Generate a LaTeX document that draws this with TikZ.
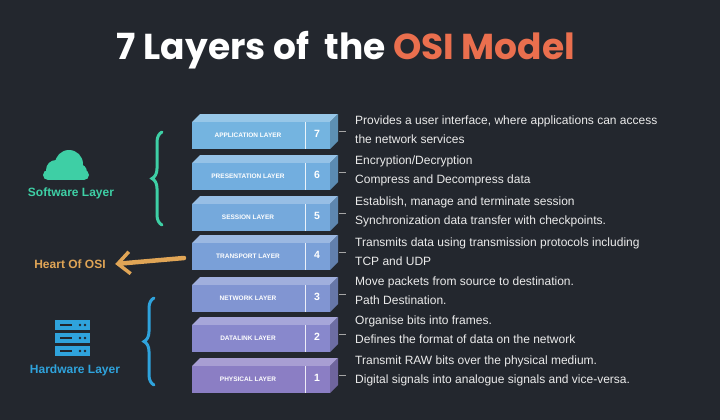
\documentclass[tikz,border=0pt]{standalone}
\usepackage{fontspec}
\setmainfont{Liberation Sans}
\newfontfamily\titlefont{Poppins}
\usetikzlibrary{decorations.pathreplacing,arrows.meta}
\definecolor{bg}{HTML}{23272E}
\definecolor{teal}{HTML}{3ECFA5}
\definecolor{orng}{HTML}{E0A556}
\definecolor{hwblue}{HTML}{2FA3DC}
\definecolor{titleor}{HTML}{EA6F4E}
\tikzset{
  desc/.style={anchor=west,text=white!92!black,font=\fontsize{12}{19}\selectfont,align=left,inner sep=0},
  lbl/.style={text=white,font=\bfseries\fontsize{6.5}{7}\selectfont,inner sep=0},
  num/.style={text=white,font=\bfseries\fontsize{10.5}{12}\selectfont,inner sep=0},
}
\newcommand{\layerbox}[5]{% y0, color, label, number, name
  \fill[#2!75!white] (192,#1) -- (200,#1-8) -- (338,#1-8) -- (330,#1) -- cycle;
  \fill[#2!80!black] (330,#1) -- (338,#1-8) -- (338,#1+19) -- (330,#1+27) -- cycle;
  \fill[#2] (192,#1) rectangle (330,#1+27);
  \draw[white!85!#2,line width=0.6pt] (305,#1) -- (305,#1+27);
  \node[lbl] (#5) at (248,#1+13.5) {#3};
  \node[num] (#5n) at (317,#1+12) {#4};
  \draw[gray!70,line width=0.6pt] (339,#1+9) -- (346,#1+9);
}
\begin{document}
\begin{tikzpicture}[x=1pt,y=-1pt]
\fill[bg] (0,0) rectangle (720,420);
\useasboundingbox (0,0) rectangle (720,420);
\node[font=\titlefont\bfseries\fontsize{36}{40}\selectfont,text=white] (title) at (346,50) {7 Layers of \ the \textcolor{titleor}{OSI Model}};
\definecolor{c7}{HTML}{74B4E0}
\definecolor{c6}{HTML}{72AEDF}
\definecolor{c5}{HTML}{75A9DC}
\definecolor{c4}{HTML}{7AA0D8}
\definecolor{c3}{HTML}{8195D2}
\definecolor{c2}{HTML}{8888CC}
\definecolor{c1}{HTML}{8B7EC4}
\layerbox{122}{c7}{APPLICATION LAYER}{7}{l7}
\layerbox{163}{c6}{PRESENTATION LAYER}{6}{l6}
\layerbox{204}{c5}{SESSION LAYER}{5}{l5}
\layerbox{243}{c4}{TRANSPORT LAYER}{4}{l4}
\layerbox{285}{c3}{NETWORK LAYER}{3}{l3}
\layerbox{325}{c2}{DATALINK LAYER}{2}{l2}
\layerbox{366}{c1}{PHYSICAL LAYER}{1}{l1}
\node[desc] (d7) at (355,130) {Provides a user interface, where applications can access\\the network services};
\node[desc] (d6) at (355,171) {Encryption/Decryption\\Compress and Decompress data};
\node[desc] (d5) at (355,212) {Establish, manage and terminate session\\Synchronization data transfer with checkpoints.};
\node[desc] (d4) at (355,252) {Transmits data using transmission protocols including\\TCP and UDP};
\node[desc] (d3) at (355,291) {Move packets from source to destination.\\Path Destination.};
\node[desc] (d2) at (355,330) {Organise bits into frames.\\Defines the format of data on the network};
\node[desc] (d1) at (355,371) {Transmit RAW bits over the physical medium.\\Digital signals into analogue signals and vice-versa.};
% braces
\coordinate (bt1) at (162,225);
\coordinate (bt2) at (162,132);
\draw[teal,line width=3pt,line cap=round,decorate,decoration={brace,amplitude=10pt}] (bt1) -- (bt2);
\coordinate (bb1) at (154,385);
\coordinate (bb2) at (154,298);
\draw[hwblue,line width=3pt,line cap=round,decorate,decoration={brace,amplitude=10pt}] (bb1) -- (bb2);
% cloud
\fill[teal] (48,170) rectangle (84,180);
\fill[teal] (56,170) circle (10);
\fill[teal] (69,164) circle (14);
\fill[teal] (79,172) circle (8);
\fill[teal] (48,175) circle (5);
\fill[teal] (84,175) circle (5);
\node[text=teal,font=\bfseries\fontsize{12}{13}\selectfont] (sw) at (71,193) {Software Layer};
% arrow
\node[text=orng,font=\bfseries\fontsize{12}{13}\selectfont] (heart) at (70,264) {Heart Of OSI};
\coordinate (astart) at (184,258);
\draw[orng,line width=4.5pt,line cap=round,-{Straight Barb[length=12pt,width=22pt,line width=3.5pt]}] (astart) -- ([xshift=6pt]heart.east);
% server icon
\foreach \yy in {325,338,351}{
  \fill[hwblue] (55,\yy-5) rectangle (90,\yy+5);
  \draw[bg,line width=1.2pt] (60,\yy) -- (72,\yy);
  \fill[bg] (80,\yy) circle (1.3) (85,\yy) circle (1.3);
}
\node[text=hwblue,font=\bfseries\fontsize{12}{13}\selectfont] (hw) at (75,370) {Hardware Layer};
\end{tikzpicture}
\end{document}
